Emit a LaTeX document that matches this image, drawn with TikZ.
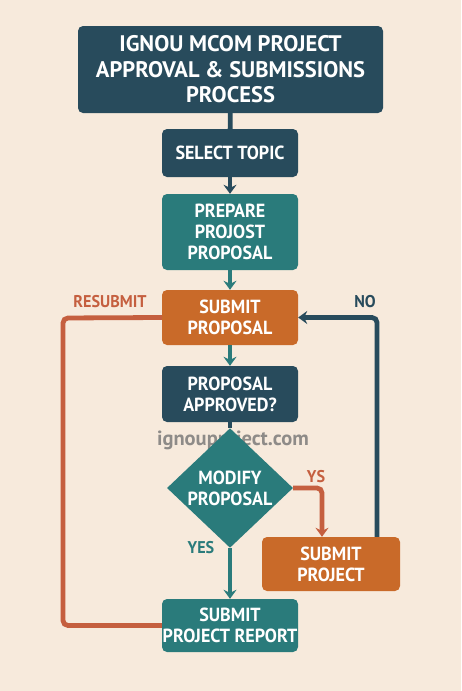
\documentclass[tikz,border=0pt]{standalone}
\usepackage{fontspec}
\setmainfont{PT Sans}
\newfontfamily\boxfont{PT Sans}[FakeStretch=0.95]
\usetikzlibrary{arrows.meta, shapes.geometric}

\definecolor{bgcream}{HTML}{F7EADC}
\definecolor{navy}{HTML}{284B5C}
\definecolor{tealc}{HTML}{2A7B7B}
\definecolor{orangec}{HTML}{C96A29}
\definecolor{rustc}{HTML}{C55F3F}
\definecolor{markgray}{HTML}{8E8B88}

\tikzset{
  box/.style={rectangle, rounded corners=5pt, text=white, align=center,
    font=\boxfont\bfseries\fontsize{19}{21}\selectfont, inner sep=0pt},
  navybox/.style={box, fill=navy},
  tealbox/.style={box, fill=tealc},
  orangebox/.style={box, fill=orangec},
  link/.style={line width=4.8pt, rounded corners=5pt},
  tip/.style={-{Stealth[length=9pt, width=13pt, inset=3pt]}},
  lbl/.style={font=\boxfont\bfseries\fontsize{17}{19}\selectfont}
}

\begin{document}
\begin{tikzpicture}[x=1pt, y=-1pt]
  % 背景
  \fill[bgcream] (0,0) rectangle (461,691);
  \useasboundingbox (0,0) rectangle (461,691);

  % 水印
  \node[text=markgray, font=\bfseries\fontsize{20.5}{22}\selectfont] (mark) at (233,440) {ignouproject.com};

  % 定义节点
  \node[navybox, minimum width=305pt, minimum height=87pt,
    font=\bfseries\fontsize{22.5}{25.5}\selectfont] (title) at (230.5,69.5)
    {IGNOU MCOM PROJECT\\APPROVAL \& SUBMISSIONS\\PROCESS};
  \node[navybox, minimum width=136pt, minimum height=48pt] (topic) at (230,153) {SELECT TOPIC};
  \node[tealbox, minimum width=136pt, minimum height=76pt] (prep) at (230,232) {PREPARE\\PROJOST\\PROPOSAL};
  \node[orangebox, minimum width=136pt, minimum height=55pt] (subprop) at (230,317.5) {SUBMIT\\PROPOSAL};
  \node[navybox, minimum width=136pt, minimum height=56pt] (approved) at (230,394) {PROPOSAL\\APPROVED?};
  \node[diamond, fill=tealc, text=white, align=center, inner sep=0pt,
    minimum width=126pt, minimum height=94pt,
    font=\boxfont\bfseries\fontsize{19}{21}\selectfont] (modify) at (230,488) {MODIFY\\PROPOSAL};
  \node[orangebox, minimum width=138pt, minimum height=54pt] (subproj) at (331,564) {SUBMIT\\PROJECT};
  \node[tealbox, minimum width=136pt, minimum height=53pt] (report) at (230,625.5) {SUBMIT\\PROJECT REPORT};
  \coordinate (rsb) at (63,318);

  % 绘制连线
  \draw[link, navy] (title) -- (topic);
  \draw[link, navy, tip] (topic) -- (prep);
  \draw[link, tealc, tip] (prep) -- (subprop);
  \draw[link, tealc, tip] (subprop) -- (approved);
  \draw[link, navy] (approved) -- (modify);
  \draw[link, tealc, tip] (modify.south) -- (report.north);
  \draw[link, rustc, tip] (modify.east) -| ([xshift=-9pt]subproj.north);
  \draw[link, navy, tip] ([xshift=46pt]subproj.north) |- (subprop.east);
  \draw[link, rustc] (report.west) -| (rsb) -- (subprop.west);

  % 标注
  \node[lbl, text=rustc] (lresub) at (110,302) {RESUBMIT};
  \node[lbl, text=navy] (lno) at (365,302) {NO};
  \node[lbl, text=rustc] (lys) at (316,477) {YS};
  \node[lbl, text=tealc] (lyes) at (201,548) {YES};
\end{tikzpicture}
\end{document}
